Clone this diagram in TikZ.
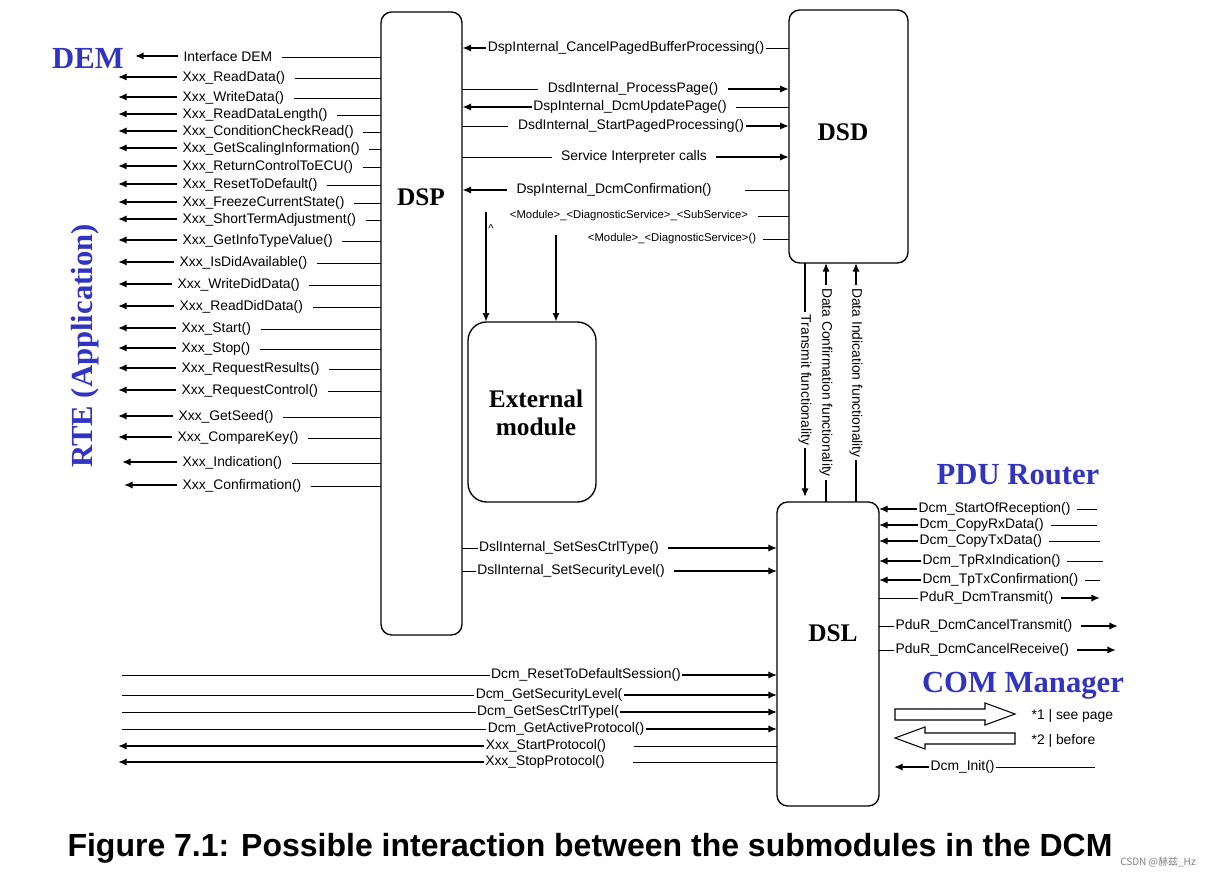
\documentclass[tikz,border=0pt]{standalone}
\usepackage{fontspec}
\usetikzlibrary{arrows.meta}
\setmainfont{Liberation Sans}
\newfontfamily\serifb{Liberation Serif}
\newfontfamily\cjk{Noto Sans CJK SC}
\begin{document}
\begin{tikzpicture}[x=0.75pt,y=-0.75pt,
  box/.style={draw,line width=1pt,rounded corners=8pt},
  lbl/.style={font=\fontsize{10.4}{11}\selectfont,inner sep=1pt},
  sml/.style={font=\fontsize{8.5}{10}\selectfont,inner sep=1pt},
  arr/.style={line width=1.6pt,-{Latex[length=6.5pt,width=5.5pt]}},
  ln/.style={line width=0.6pt},
  head/.style={font=\serifb\bfseries\fontsize{23}{25}\selectfont,text=blue!70!black!80!white},
  mod/.style={font=\serifb\bfseries\fontsize{19}{21}\selectfont}]
\useasboundingbox (0,0) rectangle (1211,873);
% boxes
\draw[box] (381,12) rectangle (462,635);
\node (DSP) at (421.5,323.5) [minimum width=61pt,minimum height=467pt] {};
\draw[box] (789,10) rectangle (908,263);
\node (DSD) at (848.5,136.5) [minimum width=89pt,minimum height=190pt] {};
\draw[box] (777,502) rectangle (879,806);
\node (DSL) at (828,654) [minimum width=76pt,minimum height=228pt] {};
\draw[box,rounded corners=14pt] (468,322) rectangle (596,502);
\node (EXT) at (532,412) [minimum width=96pt,minimum height=135pt] {};
\node[mod] at (421,197) {DSP};
\node[mod] at (843,132) {DSD};
\node[mod] at (833,633) {DSL};
\node[mod,align=center] at (536,413) {External\\module};
% headings
\node[head] at (88,58) {DEM};
\node[head,rotate=90] at (85,346) {RTE (Application)};
\node[head] at (1018,475) {PDU Router};
\node[head] at (1023,686) {COM Manager};
% left rows
\foreach \y/\t/\ax/\lx [count=\i] in {56/Interface DEM/135/182,77/Xxx\_ReadData()/118/181,97/Xxx\_WriteData()/118/181,
  114/Xxx\_ReadDataLength()/118/181,131/Xxx\_ConditionCheckRead()/118/181,148/Xxx\_GetScalingInformation()/118/181,
  166/Xxx\_ReturnControlToECU()/118/181,184/Xxx\_ResetToDefault()/118/181,202/Xxx\_FreezeCurrentState()/118/181,
  219/Xxx\_ShortTermAdjustment()/118/181,240/Xxx\_GetInfoTypeValue()/118/181,262/Xxx\_IsDidAvailable()/118/178,
  284/Xxx\_WriteDidData()/118/176,306/Xxx\_ReadDidData()/118/178,328/Xxx\_Start()/118/180,348/Xxx\_Stop()/118/180,
  368/Xxx\_RequestResults()/118/180,390/Xxx\_RequestControl()/118/180,416/Xxx\_GetSeed()/118/177,
  437/Xxx\_CompareKey()/118/176,462/Xxx\_Indication()/122/181,485/Xxx\_Confirmation()/124/181}
{
  \node[lbl,anchor=west] (L\i) at (\lx,\y+1) {\t};
  \coordinate (La\i) at (\ax,\y);
  \draw[arr] (\lx-4,\y) -- (La\i);
  \draw[ln] ([xshift=6pt]L\i.east) -- (L\i -| DSP.west);
}
% DSP <-> DSD
\node[lbl] (A1) at (626,48) {DspInternal\_CancelPagedBufferProcessing()};
\draw[arr] (A1.west) -- (A1 -| DSP.east); \draw[ln] (A1.east) -- (A1 -| DSD.west);
\node[lbl] (A2) at (633,89) {DsdInternal\_ProcessPage()};
\draw[ln] (A2 -| DSP.east) -- ([xshift=-6pt]A2.west); \draw[arr] ([xshift=6pt]A2.east) -- (A2 -| DSD.west);
\node[lbl] (A3) at (630,107) {DspInternal\_DcmUpdatePage()};
\draw[arr] (A3.west) -- (A3 -| DSP.east); \draw[ln] ([xshift=6pt]A3.east) -- (A3 -| DSD.west);
\node[lbl] (A4) at (631,126) {DsdInternal\_StartPagedProcessing()};
\draw[ln] (A4 -| DSP.east) -- ([xshift=-6pt]A4.west); \draw[arr] (A4.east) -- (A4 -| DSD.west);
\node[lbl] (A5) at (634,157) {Service Interpreter calls};
\draw[ln] (A5 -| DSP.east) -- ([xshift=-6pt]A5.west); \draw[arr] ([xshift=6pt]A5.east) -- (A5 -| DSD.west);
\node[lbl] (A6) at (614,190) {DspInternal\_DcmConfirmation()};
\draw[arr] ([xshift=-6pt]A6.west) -- (A6 -| DSP.east); \draw[ln] ([xshift=24pt]A6.east) -- (A6 -| DSD.west);
\node[sml] (A7) at (629,216) {<Module>\_<DiagnosticService>\_<SubService>};
\draw[ln] ([xshift=6pt]A7.east) -- (A7 -| DSD.west);
\node[sml] at (491,229) {\textasciicircum};
\node[sml] (A8) at (672,239) {<Module>\_<DiagnosticService>()};
\draw[ln] ([xshift=4pt]A8.east) -- (A8 -| DSD.west);
\coordinate (V1) at (486,212); \coordinate (V2) at (556,235);
\draw[arr] (V1) -- (V1 |- EXT.north);
\draw[arr] (V2) -- (V2 |- EXT.north);
% DSD <-> DSL verticals
\coordinate (T1) at (805,263); \coordinate (T2) at (826,263); \coordinate (T3) at (856,263);
\draw[arr] (T1) -- (805,497) node[pos=0.5,fill=white,rotate=-90,lbl,inner sep=2pt] {Transmit functionality};
\draw[arr] (826,502) -- (T2) node[pos=0.5,fill=white,rotate=-90,lbl,inner sep=2pt] {Data Confirmation functionality};
\draw[arr] (856,502) -- (T3) node[pos=0.54,fill=white,rotate=-90,lbl,inner sep=2pt] {Data Indication functionality};
% DSP -> DSL
\node[lbl] (B1) at (569,548) {DslInternal\_SetSesCtrlType()};
\draw[ln] (B1 -| DSP.east) -- (B1.west); \draw[arr] ([xshift=6pt]B1.east) -- (B1 -| DSL.west);
\node[lbl] (B2) at (571,571) {DslInternal\_SetSecurityLevel()};
\draw[ln] (B2 -| DSP.east) -- (B2.west); \draw[arr] ([xshift=6pt]B2.east) -- (B2 -| DSL.west);
% bottom rows
\coordinate (RL) at (122,700);
\foreach \y/\t/\cx [count=\i] in {675/Dcm\_ResetToDefaultSession()/586,695/Dcm\_GetSecurityLevel(/549,712/Dcm\_GetSesCtrlTypel(/548,729/Dcm\_GetActiveProtocol()/566}
{
  \node[lbl] (C\i) at (\cx,\y) {\t};
  \draw[ln] (RL |- C\i) -- (C\i.west);
  \draw[arr] (C\i.east) -- (C\i -| DSL.west);
}
\foreach \y/\t/\cx [count=\i] in {746/Xxx\_StartProtocol()/546,762/Xxx\_StopProtocol()/545}
{
  \node[lbl] (D\i) at (\cx,\y) {\t};
  \coordinate (Da\i) at (118,\y);
  \draw[arr] (D\i.west) -- (Da\i);
  \draw[ln] ([xshift=20pt]D\i.east) -- (D\i -| DSL.west);
}
% DSL right side
\foreach \y/\t/\lx/\ex [count=\i] in {509/Dcm\_StartOfReception()/917/1097,525/Dcm\_CopyRxData()/918/1097,541/Dcm\_CopyTxData()/918/1100,
  561/Dcm\_TpRxIndication()/921/1103,580/Dcm\_TpTxConfirmation()/921/1100}
{
  \node[lbl,anchor=west] (E\i) at (\lx,\y) {\t};
  \draw[arr] (E\i.west) -- (E\i -| DSL.east);
  \draw[ln] ([xshift=4pt]E\i.east) -- (\ex,\y);
}
\foreach \y/\t/\lx/\ex [count=\i] in {598/PduR\_DcmTransmit()/918/1100,626/PduR\_DcmCancelTransmit()/894/1118,650/PduR\_DcmCancelReceive()/894/1116}
{
  \node[lbl,anchor=west] (F\i) at (\lx,\y) {\t};
  \coordinate (Fa\i) at (\ex,\y);
  \draw[ln] (F\i -| DSL.east) -- (F\i.west);
  \draw[arr] ([xshift=5pt]F\i.east) -- (Fa\i);
}
\node[lbl,anchor=west] (G1) at (929,767) {Dcm\_Init()};
\draw[arr] (G1.west) -- (894,767);
\draw[ln] (G1.east) -- (1095,767);
% hollow arrows
\draw[line width=0.8pt] (895,709)--(985,709)--(985,703)--(1015,714)--(985,725)--(985,720)--(895,720)--cycle;
\draw[line width=0.8pt] (1015,733)--(925,733)--(925,727)--(895,738)--(925,749)--(925,744)--(1015,744)--cycle;
\node[lbl,anchor=west] at (1030,716) {*1 | see page};
\node[lbl,anchor=west] at (1030,741) {*2 | before};
% caption
\node[font=\bfseries\fontsize{24}{27}\selectfont] at (590,848) {Figure 7.1: Possible interaction between the submodules in the DCM};
\node[font=\cjk\fontsize{7.5}{9}\selectfont,text=gray] at (1158,862) {CSDN @赫兹\_Hz};
\end{tikzpicture}
\end{document}
